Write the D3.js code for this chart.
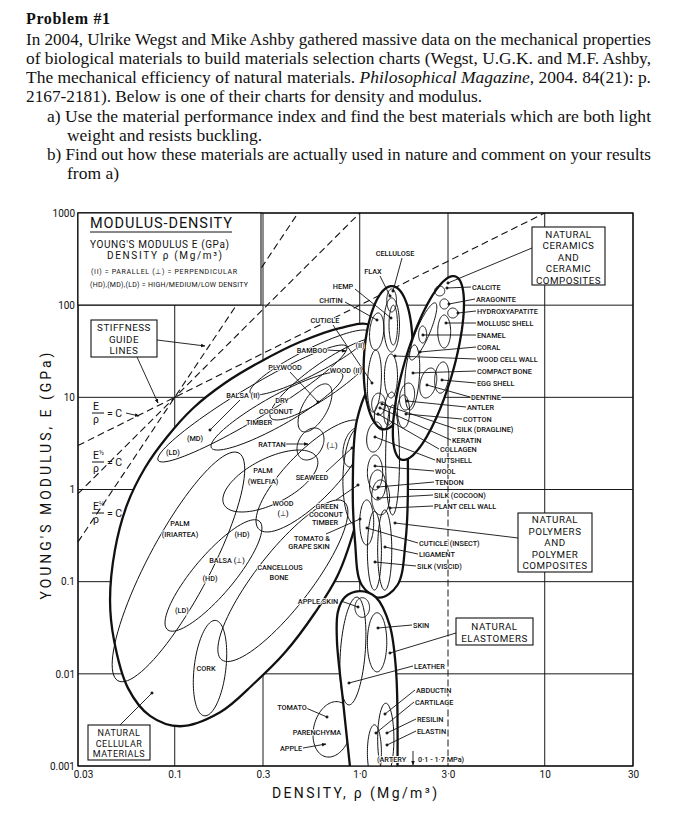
<!DOCTYPE html>
<html>
<head>
<meta charset="UTF-8">
<title>Modulus-density chart</title>
<style>
  body { margin: 0; background: #fff; }
  svg text { fill: #111; }
  .prob { font-family: "Liberation Serif", "Times New Roman", serif; font-size: 16px; }
  .c { font-family: Roboto, "Liberation Sans", sans-serif; }
  .lbl { font-size: 7.3px; font-weight: 500; stroke: #fff; stroke-width: 1.6px; paint-order: stroke; }
  .tick { font-size: 10px; }
  .box { fill: #fff; stroke: #111; stroke-width: 1.1; }
</style>
</head>
<body>
<svg id="chart" width="698" height="825"></svg>
<script src="https://cdn.jsdelivr.net/npm/d3@7"></script>
<script>
// ---- axes ----
var rhoTicks = [0.03, 0.1, 0.3, 1, 3, 10, 30];
var rhoTickLabels = ["0.03", "0.1", "0.3", "1·0", "3·0", "10", "30"];
var eTicks = [0.001, 0.01, 0.1, 1, 10, 100, 1000];
var eTickLabels = ["0.001", "0.01", "0.1", "1", "10", "100", "1000"];

// stiffness guide lines E^(1/n)/rho = C, all through one pivot
var guideSlopes = [1, 2, 3];
var guidePivot = [0.1, 10];

// envelopes: [density Mg/m3, modulus GPa]
var cellularEnvelope = [[0.107,0.0027],[0.0735,0.0035],[0.0559,0.0070],[0.047,0.023],[0.0447,0.063],
  [0.0475,0.22],[0.0552,0.68],[0.069,1.71],[0.0908,3.71],[0.126,7.66],[0.187,14.3],[0.289,24.2],
  [0.475,39.8],[0.781,56.5],[1.13,61],[1.28,37],[1.25,9.36],[1.13,2.09],[0.966,0.47],[0.762,0.118],
  [0.573,0.046],[0.394,0.017],[0.271,0.0080],[0.175,0.0038]];
var polymerEnvelope = [[1.28,0.067],[1.025,0.092],[0.942,0.28],[0.918,1.27],[0.966,5.68],[1.16,13.6],
  [1.45,15.4],[1.75,9.36],[1.82,2.09],[1.77,0.28],[1.60,0.092]];
var elastomerEnvelope = [[0.885,0.001],[0.811,0.0052],[0.753,0.023],[0.762,0.047],[0.832,0.068],
  [1.00,0.079],[1.22,0.068],[1.45,0.034],[1.57,0.0111],[1.60,0.001]];
// [name, rho low, rho high, E low, E high, tilt]
var fibreEnvelope = ["natural fibres", 1.05, 1.93, 4.5, 161, 0.15];
var ceramicEnvelope = ["natural ceramics", 1.51, 3.66, 2.09, 207, 0.7];

var cellularBubbles = [
  ["balsa (II)", 0.081, 0.853, 1.99, 37, 0.95],
  ["dry coconut timber", 0.157, 0.811, 2.68, 18.8, 0.9],
  ["bamboo", 0.255, 1.13, 10.6, 53.8, 0.9],
  ["wood (II)", 0.327, 1.31, 5.68, 44.1, 0.88],
  ["plywood", 0.464, 0.708, 4.21, 14.0, 0.6],
  ["rattan", 0.458, 0.641, 2.09, 4.65, 0.3],
  ["wood (perp)", 0.275, 1.08, 0.346, 5.68, 0.8],
  ["palm welfia", 0.182, 0.594, 0.57, 2.68, 0.6],
  ["palm iriartea", 0.0459, 0.239, 0.0082, 2.55, 0.85],
  ["balsa (perp)", 0.0886, 0.296, 0.029, 0.47, 0.85],
  ["cancellous bone", 0.171, 0.863, 0.0136, 0.77, 0.85],
  ["cork", 0.126, 0.191, 0.0035, 0.038, 0.3],
  ["seaweed", 0.811, 1.06, 1.75, 4.65, 0.3],
  ["green coconut timber", 0.811, 1.16, 0.41, 4.65, 0.1],
  ["tomato & grape skin", 0.942, 1.13, 0.38, 0.65, 0],
  ["parenchyma", 0.559, 0.907, 0.00125, 0.0050, 0.2]
];
var fibreBubbles = [
  ["cellulose", 1.40, 1.58, 84.3, 150, 0],
  ["flax", 1.35, 1.64, 31, 120, 0],
  ["hemp", 1.44, 1.60, 37, 100, 0],
  ["chitin", 1.13, 1.35, 32.6, 82.3, 0.2],
  ["cuticle", 1.10, 1.31, 6.93, 32.6, 0.2],
  ["wood cell wall", 1.36, 1.60, 9.84, 29.5, 0]
];
var ceramicBubbles = [
  ["calcite", 2.54, 2.88, 126, 161, 0],
  ["aragonite", 2.71, 3.03, 90.8, 117, 0],
  ["hydroxyapatite", 2.99, 3.39, 72.6, 93, 0],
  ["mollusc shell", 2.64, 3.10, 34.3, 78.2, 0],
  ["enamel", 2.08, 2.30, 38.9, 59.4, 0],
  ["coral", 1.86, 2.61, 25.4, 106, 0.85],
  ["compact bone", 1.75, 2.11, 7.29, 37, 0.3],
  ["egg shell", 2.54, 3.03, 11.1, 24.2, 0.2],
  ["dentine", 2.11, 2.61, 9.84, 20.8, 0.3],
  ["antler", 1.64, 1.98, 7.29, 14.3, 0.2]
];
var polymerBubbles = [
  ["cotton", 1.60, 1.86, 4.65, 10.6, 0],
  ["silk (dragline)", 1.35, 1.57, 5.0, 11.4, 0.3],
  ["keratin", 1.16, 1.38, 6.43, 11.1, 0],
  ["collagen", 1.20, 1.45, 4.42, 8.9, 0],
  ["nutshell", 1.09, 1.33, 2.55, 5.40, 0.2],
  ["wool", 1.10, 1.33, 0.99, 2.37, 0],
  ["tendon", 1.13, 1.38, 0.77, 1.63, 0],
  ["silk (cocoon)", 1.16, 1.45, 0.53, 1.27, 0],
  ["plant cell wall", 1.38, 1.64, 0.53, 8.26, 0],
  ["cuticle (insect)", 1.00, 1.19, 0.25, 0.77, 0],
  ["ligament", 1.25, 1.49, 0.081, 0.60, 0],
  ["silk (viscid)", 1.10, 1.31, 0.081, 0.58, 0]
];
var elastomerBubbles = [
  ["apple skin", 0.942, 1.13, 0.041, 0.067, 0],
  ["skin", 1.10, 1.40, 0.0105, 0.046, 0],
  ["leather", 0.781, 1.08, 0.0046, 0.068, 0.3],
  ["abductin", 1.25, 1.53, 0.0008, 0.0048, 0],
  ["resilin", 1.10, 1.31, 0.0007, 0.0028, 0]
];

// ---- annotation text (pixel layout) ----
var midLabels = [
  ["CELLULOSE",395,253],["FLAX",373,271],["HEMP",343,286],["CHITIN",331,300],["CUTICLE",325,320],
  ["BAMBOO",312,350],["(II)",360,345],["PLYWOOD",285,367],["WOOD (II)",346,370],["BALSA (II)",243,395],
  ["DRY",282,400],["COCONUT",276,411],["TIMBER",259,422],["(MD)",195,438],["(LD)",173,452],
  ["RATTAN",272,444],["(⊥)",332,445],["PALM",263,470],["(WELFIA)",263,481],["SEAWEED",312,477],
  ["WOOD",283,503],["(⊥)",283,513],["GREEN",327,506],["COCONUT",326,514],["TIMBER",325,522],
  ["PALM",180,523],["(IRIARTEA)",180,534],["(HD)",242,534],["TOMATO &",312,538],["GRAPE SKIN",309,546],
  ["BALSA (⊥)",227,560],["(HD)",210,578],["CANCELLOUS",280,567],["BONE",279,577],["APPLE SKIN",318,601],
  ["(LD)",182,610],["CORK",206,668],["TOMATO",292,707],["PARENCHYMA",317,732],["APPLE",291,748]
];
var sideLabels = [
  ["CALCITE",472,287,447,288],["ARAGONITE",476,299,449,304],["HYDROXYAPATITE",477,311,458,313],
  ["MOLLUSC SHELL",477,323,446,323],["ENAMEL",477,335,423,335],["CORAL",477,347,420,352],
  ["WOOD CELL WALL",477,359,395,356],["COMPACT BONE",477,371,413,373],["EGG SHELL",477,383,442,380],
  ["DENTINE",471,397,427,385],["ANTLER",467,407,407,401],["COTTON",463,419,406,414],
  ["SILK (DRAGLINE)",457,429,382,404],["KERATIN",452,440,380,408],["COLLAGEN",440,449,378,414],
  ["NUTSHELL",436,460,375,437],["WOOL",435,471,375,466],["TENDON",435,482,378,487],
  ["SILK (COCOON)",434,495,378,498],["PLANT CELL WALL",434,506,390,508],
  ["CUTICLE (INSECT)",419,543,367,528],["LIGAMENT",419,554,385,547],["SILK (VISCID)",417,566,375,562],
  ["SKIN",413,625,378,628],["LEATHER",414,666,349,683],["ABDUCTIN",416,690,385,714],
  ["CARTILAGE",415,702,376,733],["RESILIN",417,719,387,733],["ELASTIN",417,731,387,745]
];
var leaders = [
  [402,258,393,291],[380,276,390,296],[355,289,391,318],[345,302,377,320],[333,325,372,383],
  [290,372,318,402],[240,400,210,430],[326,472,352,448],[336,500,358,485],[326,534,360,519],
  [341,601,358,607],[306,708,327,717],
  [532,248,448,283],[518,538,395,523],[456,633,390,653],[120,725,152,693]
];
var arrows = [
  [326,350,346,351],[286,444,308,444],[303,748,326,744],[157,340,205,346],[137,357,158,403],[126,413,139,416]
];

var svg = d3.select("#chart");
var x = d3.scaleLog().domain([0.03, 30]).range([78, 633]);
var y = d3.scaleLog().domain([0.001, 1000]).range([766, 213]);

svg.append("defs").append("clipPath").attr("id", "plot")
  .append("rect").attr("x", 78).attr("y", 213).attr("width", 555).attr("height", 553);
svg.select("defs").append("marker").attr("id", "arr").attr("viewBox", "0 0 10 10")
  .attr("refX", 9).attr("refY", 5).attr("markerWidth", 5).attr("markerHeight", 5)
  .attr("orient", "auto").append("path").attr("d", "M0,1L10,5L0,9z").attr("fill", "#111");

// ---- problem text ----
var prob = svg.append("g").attr("class", "prob");
prob.append("text").attr("x", 26).attr("y", 24).attr("font-weight", "bold")
  .attr("textLength", 84).text("Problem #1");
var para = [
  ["In 2004, Ulrike Wegst and Mike Ashby gathered massive data on the mechanical properties", 26, 45, 625],
  ["of biological materials to build materials selection charts (Wegst, U.G.K. and M.F. Ashby,", 26, 64, 625],
  [null, 26, 83, 625],
  ["2167-2181). Below is one of their charts for density and modulus.", 26, 102, 456],
  ["a) Use the material performance index and find the best materials which are both light", 47, 122, 604],
  ["weight and resists buckling.", 67, 141, 195],
  ["b) Find out how these materials are actually used in nature and comment on your results", 47, 160, 604],
  ["from a)", 67, 179, 52]
];
para.forEach(function(p) {
  var t = prob.append("text").attr("x", p[1]).attr("y", p[2])
    .attr("textLength", p[3]).attr("lengthAdjust", "spacingAndGlyphs");
  if (p[0]) t.text(p[0]);
  else {
    t.append("tspan").text("The mechanical efficiency of natural materials. ");
    t.append("tspan").attr("font-style", "italic").text("Philosophical Magazine");
    t.append("tspan").text(", 2004. 84(21): p.");
  }
});

// ---- grid ----
var grid = svg.append("g").attr("stroke", "#1a1a1a").attr("stroke-width", 1);
grid.selectAll("line.h").data(eTicks).join("line").attr("class", "h")
  .attr("x1", x(0.03)).attr("x2", x(30)).attr("y1", function(d) { return y(d); }).attr("y2", function(d) { return y(d); });
grid.selectAll("line.v").data(rhoTicks).join("line").attr("class", "v")
  .attr("x1", function(d) { return x(d); }).attr("x2", function(d) { return x(d); })
  .attr("y1", y(1000)).attr("y2", function(d) { return d === 3 ? y(1) : y(0.001); });
grid.append("line").attr("x1", x(3)).attr("x2", x(3)).attr("y1", y(1)).attr("y2", y(0.001))
  .attr("stroke-dasharray", "7,3");

// ---- guide lines ----
var guides = svg.append("g").attr("stroke", "#111").attr("stroke-width", 1.1)
  .attr("stroke-dasharray", "7,4").attr("fill", "none");
guideSlopes.forEach(function(n) {
  var r0 = 0.03, r1 = guidePivot[0] * Math.pow(1000 / guidePivot[1], 1 / n);
  guides.append("line")
    .attr("x1", x(r0)).attr("y1", y(guidePivot[1] * Math.pow(r0 / guidePivot[0], n)))
    .attr("x2", x(r1)).attr("y2", y(1000));
});

// ---- envelopes and bubbles ----
var plot = svg.append("g").attr("clip-path", "url(#plot)");
var pathOf = d3.line().x(function(d) { return x(d[0]); }).y(function(d) { return y(d[1]); });

function bubble(b) {
  var lx0 = Math.log10(b[1]), lx1 = Math.log10(b[2]), ly0 = Math.log10(b[3]), ly1 = Math.log10(b[4]);
  var cx = (lx0 + lx1) / 2, ax = (lx1 - lx0) / 2, cy = (ly0 + ly1) / 2, ay = (ly1 - ly0) / 2;
  var phi = Math.acos(b[5]);
  var pts = d3.range(90).map(function(i) {
    var t = i / 90 * 2 * Math.PI;
    return [Math.pow(10, cx + ax * Math.cos(t)), Math.pow(10, cy + ay * Math.cos(t - phi))];
  });
  return pathOf.curve(d3.curveLinearClosed)(pts);
}
function envelope(d, closed) {
  return pathOf.curve(closed ? d3.curveCatmullRomClosed : d3.curveCatmullRom)(d);
}
function drawBubbles(list) {
  plot.append("g").selectAll("path").data(list).join("path")
    .attr("d", bubble).attr("fill", "none").attr("stroke", "#111").attr("stroke-width", 1);
}
var thick = { fill: "#fff", stroke: "#111", "stroke-width": 2.3 };
function styleEnv(sel) { Object.keys(thick).forEach(function(k) { sel.attr(k, thick[k]); }); return sel; }

styleEnv(plot.append("path").attr("d", envelope(cellularEnvelope, true)));
drawBubbles(cellularBubbles);
styleEnv(plot.append("path").attr("d", envelope(polymerEnvelope, true)));
styleEnv(plot.append("path").attr("d", envelope(elastomerEnvelope, false)));
styleEnv(plot.append("path").attr("d", bubble(fibreEnvelope)));
styleEnv(plot.append("path").attr("d", bubble(ceramicEnvelope)));
drawBubbles(polymerBubbles);
drawBubbles(elastomerBubbles);
drawBubbles(fibreBubbles);
drawBubbles(ceramicBubbles);

// ---- frame ----
svg.append("rect").attr("x", 78).attr("y", 213).attr("width", 555).attr("height", 553)
  .attr("fill", "none").attr("stroke", "#111").attr("stroke-width", 1.3);

// ---- axes ----
var yAxis = svg.append("g").attr("class", "c tick").attr("transform", "translate(78,0)")
  .call(d3.axisLeft(y).tickValues(eTicks).tickSize(0).tickPadding(3)
    .tickFormat(function(d, i) { return eTickLabels[i]; }));
var xAxis = svg.append("g").attr("class", "c tick").attr("transform", "translate(0,766)")
  .call(d3.axisBottom(x).tickValues(rhoTicks).tickSize(0).tickPadding(5)
    .tickFormat(function(d, i) { return rhoTickLabels[i]; }));
[yAxis, xAxis].forEach(function(a) {
  a.select(".domain").remove();
  a.selectAll("text").attr("font-family", "Roboto, sans-serif").attr("font-size", 10).attr("fill", "#111");
});
xAxis.selectAll("text").filter(function(d) { return d === 0.03; }).attr("dx", 5);

svg.append("text").attr("class", "c").attr("transform", "translate(51,476) rotate(-90)")
  .attr("text-anchor", "middle").attr("font-size", 14).attr("textLength", 247)
  .text("YOUNG'S MODULUS, E (GPa)");
svg.append("text").attr("class", "c").attr("x", 272).attr("y", 798).attr("font-size", 14)
  .attr("textLength", 165).text("DENSITY, ρ (Mg/m³)");

// ---- boxes ----
function box(x0, y0, x1, y1, lines, cx, size) {
  svg.append("rect").attr("class", "box").attr("x", x0).attr("y", y0)
    .attr("width", x1 - x0).attr("height", y1 - y0);
  lines.forEach(function(l) {
    svg.append("text").attr("class", "c").attr("x", cx).attr("y", l[1]).attr("text-anchor", "middle")
      .attr("font-size", size).attr("letter-spacing", 0.5).text(l[0]);
  });
}
box(78, 213, 261, 305, [], 0, 10);
var tb = svg.append("g").attr("class", "c");
tb.append("text").attr("x", 90).attr("y", 228).attr("font-size", 14.5).attr("textLength", 142).text("MODULUS-DENSITY");
tb.append("line").attr("x1", 90).attr("x2", 232).attr("y1", 232).attr("y2", 232).attr("stroke", "#111");
tb.append("text").attr("x", 90).attr("y", 248).attr("font-size", 10).attr("textLength", 139).text("YOUNG'S MODULUS  E (GPa)");
tb.append("text").attr("x", 107).attr("y", 259).attr("font-size", 10).attr("textLength", 115).text("DENSITY  ρ  (Mg/m³)");
tb.append("text").attr("x", 91).attr("y", 274).attr("font-size", 7).attr("textLength", 146).text("(II) = PARALLEL   (⊥) = PERPENDICULAR");
tb.append("text").attr("x", 90).attr("y", 287).attr("font-size", 7).attr("textLength", 158).text("(HD),(MD),(LD) = HIGH/MEDIUM/LOW DENSITY");

box(91, 320, 157, 357, [["STIFFNESS", 331], ["GUIDE", 342.5], ["LINES", 354]], 124, 9.8);
box(532, 227, 605, 285, [["NATURAL", 237.5], ["CERAMICS", 249], ["AND", 260.5], ["CERAMIC", 272], ["COMPOSITES", 283.5]], 568.5, 9.8);
box(518, 513, 592, 572, [["NATURAL", 523], ["POLYMERS", 534.5], ["AND", 546], ["POLYMER", 557.5], ["COMPOSITES", 569]], 555, 9.8);
box(456, 618, 533, 645, [["NATURAL", 630], ["ELASTOMERS", 642]], 494.5, 9.8);
box(88, 725, 150, 760, [["NATURAL", 736], ["CELLULAR", 746.5], ["MATERIALS", 757]], 119, 9);

// ---- guide-line formulas ----
var fr = svg.append("g").attr("class", "c").attr("font-size", 10.5);
[[410, ""], [459, "½"], [510, "⅓"]].forEach(function(f) {
  var e = fr.append("text").attr("x", 93).attr("y", f[0]).text("E");
  if (f[1]) e.append("tspan").attr("font-size", 6.5).attr("dy", -4).text(f[1]);
  fr.append("line").attr("x1", 92).attr("x2", 104).attr("y1", f[0] + 3).attr("y2", f[0] + 3)
    .attr("stroke", "#111").attr("stroke-width", 1);
  fr.append("text").attr("x", 93).attr("y", f[0] + 12.8).text("ρ");
  fr.append("text").attr("x", 107).attr("y", f[0] + 7).text("= C");
});

// ---- leaders ----
var ann = svg.append("g").attr("stroke", "#111").attr("stroke-width", 0.9);
leaders.concat(sideLabels.map(function(s) { return [s[1] - 1, s[2], s[3], s[4]]; })).forEach(function(l) {
  ann.append("line").attr("x1", l[0]).attr("y1", l[1]).attr("x2", l[2]).attr("y2", l[3]);
  ann.append("circle").attr("cx", l[2]).attr("cy", l[3]).attr("r", 1.1).attr("fill", "#111");
});
arrows.forEach(function(l) {
  ann.append("line").attr("x1", l[0]).attr("y1", l[1]).attr("x2", l[2]).attr("y2", l[3])
    .attr("marker-end", "url(#arr)");
});

// ---- labels ----
var lab = svg.append("g").attr("class", "c lbl");
lab.selectAll("text.m").data(midLabels).join("text").attr("class", "m")
  .attr("x", function(d) { return d[1]; }).attr("y", function(d) { return d[2]; })
  .attr("dy", "0.35em").attr("text-anchor", "middle").text(function(d) { return d[0]; });
lab.selectAll("text.s").data(sideLabels).join("text").attr("class", "s")
  .attr("x", function(d) { return d[1]; }).attr("y", function(d) { return d[2]; })
  .attr("dy", "0.35em").text(function(d) { return d[0]; });

// artery note
lab.append("text").attr("x", 377).attr("y", 759).attr("dy", "0.35em").text("(ARTERY");
lab.append("text").attr("x", 418).attr("y", 759).attr("dy", "0.35em").text("0·1 - 1·7 MPa)");
ann.append("line").attr("x1", 413).attr("y1", 751).attr("x2", 413).attr("y2", 765).attr("marker-end", "url(#arr)");
</script>
</body>
</html>
